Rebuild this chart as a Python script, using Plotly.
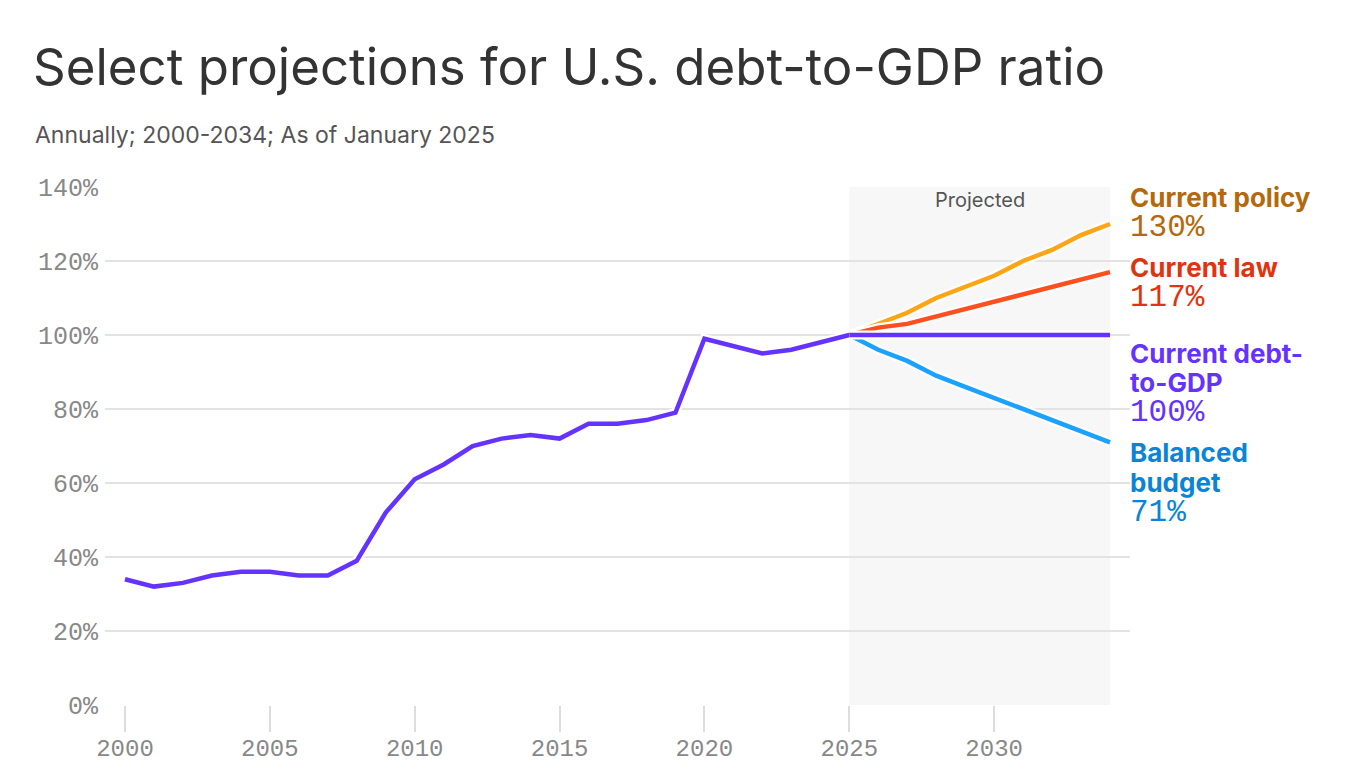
import plotly.graph_objects as go

# ---- data ----
hist_years = list(range(2000, 2026))
hist_values = [34, 32, 33, 35, 36, 36, 35, 35, 39, 52, 61, 65, 70, 72, 73, 72,
               76, 76, 77, 79, 99, 97, 95, 96, 98, 100]

proj_years = list(range(2025, 2035))
current_policy = [100, 103, 106, 110, 113, 116, 120, 123, 127, 130]
current_law = [100, 102, 103, 105, 107, 109, 111, 113, 115, 117]
current_debt = [100, 100, 100, 100, 100, 100, 100, 100, 100, 100]
balanced_budget = [100, 96, 93, 89, 86, 83, 80, 77, 74, 71]

x_ticks = [2000, 2005, 2010, 2015, 2020, 2025, 2030]
y_ticks = [0, 20, 40, 60, 80, 100, 120, 140]
y_tick_text = ["%d%%" % v for v in y_ticks]

title = "Select projections for U.S. debt-to-GDP ratio"
subtitle = "Annually; 2000-2034; As of January 2025"

MONO = "Liberation Mono, DejaVu Sans Mono, monospace"
SANS = "Inter, Roboto, sans-serif"

# plot area in pixels (for converting label pixel positions to paper coords)
PT, PB = 187, 705


def py(p):
    return (PB - p) / (PB - PT)


series = [
    # name lines, values, line color, label color, label line centres (px)
    (["Balanced", "budget"], balanced_budget, "#1BA1FF", "#0A84D6", [452, 482, 512]),
    (["Current policy"], current_policy, "#FFA515", "#B5680C", [198, 228]),
    (["Current law"], current_law, "#FF4F1E", "#DE3510", [267, 297]),
    (["Current debt-", "to-GDP"], current_debt, "#6533FF", "#6533FF", [353, 382, 412]),
]

fig = go.Figure()

# projected shading
fig.add_shape(type="rect", xref="x", yref="y", x0=2025, x1=2034, y0=0, y1=140,
              fillcolor="#F7F7F7", line_width=0, layer="below")
fig.add_annotation(x=(2025 + 2034) / 2, y=140, xref="x", yref="y", text="Projected",
                   showarrow=False, yanchor="top", yshift=1,
                   font=dict(family=SANS, size=20, color="#555555"))

for names, vals, lc, tc, pos in series:
    fig.add_trace(go.Scatter(x=proj_years, y=vals, mode="lines",
                             line=dict(color="white", width=9), hoverinfo="skip",
                             showlegend=False))
    fig.add_trace(go.Scatter(x=proj_years, y=vals, mode="lines",
                             line=dict(color=lc, width=4.5), showlegend=False))
    for n, p in zip(names, pos):
        fig.add_annotation(x=1.0, xref="paper", y=py(p), yref="paper",
                           text="<b>%s</b>" % n, showarrow=False, xshift=-2,
                           xanchor="left", yanchor="middle", align="left",
                           font=dict(family=SANS, size=26, color=tc))
    fig.add_annotation(x=1.0, xref="paper", y=py(pos[-1]), yref="paper",
                       text="%d%%" % vals[-1], showarrow=False, xshift=-2,
                       xanchor="left", yanchor="middle", align="left",
                       font=dict(family=MONO, size=31, color=tc))

# history line
fig.add_trace(go.Scatter(x=hist_years, y=hist_values, mode="lines",
                         line=dict(color="white", width=9), hoverinfo="skip",
                         showlegend=False))
fig.add_trace(go.Scatter(x=hist_years, y=hist_values, mode="lines",
                         line=dict(color="#6533FF", width=4.5), showlegend=False))

fig.update_layout(
    width=1366, height=768,
    margin=dict(l=105, r=236, t=PT, b=768 - PB, autoexpand=False),
    paper_bgcolor="white", plot_bgcolor="white",
    title=dict(text=title, x=33 / 1366, xanchor="left", xref="container",
               y=1 - 67 / 768, yanchor="middle", yref="container",
               font=dict(family=SANS, size=51, color="#333333")),
    xaxis=dict(range=[1999.31, 2034.69], tickvals=x_ticks, showgrid=False,
               ticks="outside", ticklen=26, tickwidth=1.5, tickcolor="#DDDDDD",
               ticklabelstandoff=-5,
               showline=False, zeroline=False, automargin=False,
               tickfont=dict(family=MONO, size=24, color="#888888")),
    yaxis=dict(range=[0, 140], tickvals=y_ticks, ticktext=y_tick_text,
               showgrid=True, gridcolor="#E3E3E3", gridwidth=1.5, zeroline=False,
               ticks="outside", ticklen=1, tickcolor="rgba(0,0,0,0)", automargin=False,
               tickfont=dict(family=MONO, size=25, color="#888888")),
    showlegend=False,
)

fig.add_annotation(x=(33 - 105) / 1025, xref="paper", y=py(135), yref="paper",
                   text=subtitle, showarrow=False, xanchor="left", yanchor="middle",
                   font=dict(family=SANS, size=23, color="#555555"))

fig.write_html("out.html")
